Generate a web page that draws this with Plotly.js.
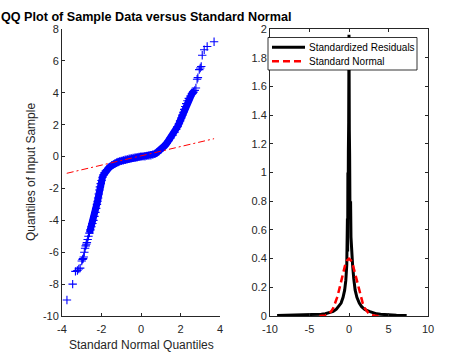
<!DOCTYPE html>
<html>
<head>
<meta charset="utf-8">
<script src="https://cdn.plot.ly/plotly-3.0.1.min.js"></script>
<style>html,body{margin:0;padding:0;background:#fff;}#plot{width:474px;height:355px;}</style>
</head>
<body>
<div id="plot"></div>
<script>
// ---- Left panel: QQ plot (theoretical quantile, sample quantile) ----
const qqX = [-3.75,-3.46,-3.32,-3.22,-3.15,-3.08,-3.00,-2.96,-2.93,-2.90,-2.87,-2.83,-2.80,-2.77,-2.74,
  -2.70,-2.66,-2.61,-2.56,-2.51,-2.46,-2.41,-2.36,-2.31,-2.27,-2.23,-2.20,-2.17,-2.14,-2.11,
  -2.08,-2.04,-2.00,-1.95,-1.90,-1.84,-1.78,-1.72,-1.64,-1.56,-1.48,-1.40,-1.32,-1.24,-1.16,-1.08,
  -1.00,-0.90,-0.80,-0.70,-0.60,-0.50,-0.40,-0.30,-0.20,-0.10,0.00,0.10,0.20,0.30,0.40,0.50,
  0.60,0.70,0.80,0.90,1.00,1.10,1.20,1.30,1.40,1.50,1.60,1.70,1.78,1.85,1.92,1.98,2.04,2.09,
  2.14,2.19,2.24,2.29,2.35,2.42,2.50,2.58,2.66,2.72,2.78,2.84,2.88,2.95,3.00,3.05,3.10,3.20,3.35,3.70];
const qqY = [-9.00,-8.00,-7.20,-7.15,-7.05,-7.00,-6.55,-6.45,-6.40,-6.30,-6.00,-5.75,-5.60,-5.50,-5.40,
  -5.20,-5.00,-4.80,-4.60,-4.40,-4.20,-4.00,-3.75,-3.50,-3.25,-3.00,-2.80,-2.60,-2.35,-2.10,
  -1.90,-1.70,-1.50,-1.30,-1.15,-1.00,-0.90,-0.82,-0.72,-0.63,-0.55,-0.49,-0.43,-0.38,-0.34,-0.30,
  -0.27,-0.23,-0.20,-0.16,-0.13,-0.10,-0.08,-0.06,-0.04,-0.02,0.00,0.01,0.02,0.04,0.06,0.08,
  0.12,0.17,0.24,0.33,0.43,0.55,0.68,0.83,0.99,1.16,1.34,1.52,1.70,1.88,2.06,2.24,2.42,2.60,
  2.78,2.96,3.14,3.32,3.50,3.65,3.80,3.95,4.05,4.15,4.30,4.85,4.95,5.45,5.55,5.65,6.35,6.70,6.90,7.20];
// reference line endpoints
const refX = [-3.76, 3.70];
const refY = [-1.05, 1.12];

// ---- Right panel: densities ----
const resX = [-9.1,-8.5,-8,-7.5,-7,-6.5,-6,-5.5,-5,-4.5,-4,-3.5,-3,-2.5,-2,-1.6,-1.35,-1.0,-0.75,-0.55,-0.4,-0.28,
  -0.2,-0.17,-0.14,-0.11,-0.08,-0.04,0.0,0.04,0.08,0.12,0.16,0.2,0.25,0.32,0.45,0.6,0.78,1.0,1.3,1.6,2.0,2.65,3.0,3.5,4,4.5,5,5.5,6,6.5,7,7.3];
const resY = [0.003,0.004,0.003,0.005,0.004,0.006,0.005,0.007,0.008,0.009,0.011,0.013,0.016,0.022,0.032,0.048,0.065,0.09,0.13,0.18,0.25,0.36,
  0.68,0.45,1.0,0.7,1.15,1.35,1.96,1.3,1.12,0.75,1.12,0.8,0.55,0.46,0.36,0.26,0.18,0.13,0.09,0.065,0.045,0.03,0.022,0.015,0.012,0.009,0.008,0.006,0.005,0.004,0.004,0.003];
const normX = [-3.75,-3.5,-3.25,-3,-2.75,-2.5,-2.25,-2,-1.75,-1.5,-1.25,-1,-0.75,-0.5,-0.25,0,
  0.25,0.5,0.75,1,1.25,1.5,1.75,2,2.25,2.5,2.75,3,3.25,3.5,3.75];
const normY = [0.0004,0.0009,0.002,0.0044,0.0091,0.0175,0.0317,0.054,0.0863,0.1295,0.1826,0.242,0.3011,0.3521,0.3867,0.3989,
  0.3867,0.3521,0.3011,0.242,0.1826,0.1295,0.0863,0.054,0.0317,0.0175,0.0091,0.0044,0.002,0.0009,0.0004];

// tick values and labels (hyphen minus, as in the reference)
const xTicksL = [-4,-2,0,2,4];
const xTickTextL = ['-4','-2','0','2','4'];
const yTicksL = [-10,-8,-6,-4,-2,0,2,4,6,8];
const yTickTextL = ['-10','-8','-6','-4','-2','0','2','4','6','8'];
const xTicksR = [-10,-5,0,5,10];
const xTickTextR = ['-10','-5','0','5','10'];
const yTicksR = [0,0.2,0.4,0.6,0.8,1,1.2,1.4,1.6,1.8,2];
const yTickTextR = ['0','0.2','0.4','0.6','0.8','1','1.2','1.4','1.6','1.8','2'];

const titleText = 'QQ Plot of Sample Data versus Standard Normal';
const xTitleL = 'Standard Normal Quantiles';
const yTitleL = 'Quantiles of Input Sample';
const legendNames = ['Standardized Residuals', 'Standard Normal'];

const FONT = 'Liberation Sans, Arial, sans-serif';
const AX = '#262626';
const W = 474, H = 355;
const px = v => v / W;
const py = v => 1 - v / H;
const bandStart = 17, bandEnd = 90;

const traces = [
  {x: qqX.slice(bandStart, bandEnd), y: qqY.slice(bandStart, bandEnd), xaxis:'x', yaxis:'y', mode:'lines',
   line:{color:'#0000ff', width:7}, showlegend:false, hoverinfo:'skip'},
  {x: qqX, y: qqY, xaxis:'x', yaxis:'y', mode:'markers',
   marker:{symbol:'cross-thin', size:6, color:'#0000ff', line:{color:'#0000ff', width:1.1}}, showlegend:false},
  {x: refX, y: refY, xaxis:'x', yaxis:'y', mode:'lines',
   line:{color:'#ff0000', width:1, dash:'7px,3px,2px,3px'}, showlegend:false},
  {x: resX, y: resY, xaxis:'x2', yaxis:'y2', mode:'lines', name: legendNames[0],
   line:{color:'#000000', width:3}, showlegend:false},
  {x: normX, y: normY, xaxis:'x2', yaxis:'y2', mode:'lines', name: legendNames[1],
   line:{color:'#ff0000', width:2.5, dash:'7px,4px'}, showlegend:false}
];

const baseAx = {
  showgrid:false, zeroline:false, showline:true, linecolor:AX, linewidth:1,
  ticks:'inside', ticklen:3, tickcolor:AX, tickwidth:1, tickmode:'array',
  tickfont:{family:FONT, size:11, color:AX}, fixedrange:true
};

const legendTop = 37.5, legendBot = 70, legendL = 268, legendR = 417;
const row1 = 47.3, row2 = 61.3;

const layout = {
  width:W, height:H, margin:{l:0, r:0, t:0, b:0},
  paper_bgcolor:'#ffffff', plot_bgcolor:'#ffffff',
  font:{family:FONT, color:AX},
  showlegend:false,
  xaxis: Object.assign({}, baseAx, {domain:[px(62), px(220)], range:[-4,4], tickvals:xTicksL, ticktext:xTickTextL, anchor:'y', ticklabelstandoff:3}),
  yaxis: Object.assign({}, baseAx, {domain:[py(316), py(29)], range:[-10,8], tickvals:yTicksL, ticktext:yTickTextL, anchor:'x'}),
  xaxis2: Object.assign({}, baseAx, {domain:[px(270), px(428)], range:[-10,10], tickvals:xTicksR, ticktext:xTickTextR, anchor:'y2', mirror:'ticks', ticklabelstandoff:3}),
  yaxis2: Object.assign({}, baseAx, {domain:[py(316), py(29)], range:[0,2], tickvals:yTicksR, ticktext:yTickTextR, anchor:'x2', mirror:'ticks'}),
  shapes:[
    {type:'rect', xref:'paper', yref:'paper', x0:px(legendL), x1:px(legendR), y0:py(legendBot), y1:py(legendTop),
     fillcolor:'#ffffff', line:{color:'#000000', width:0.8}, layer:'above'},
    {type:'line', xref:'paper', yref:'paper', x0:px(272), x1:px(305), y0:py(row1), y1:py(row1),
     line:{color:'#000000', width:3}, layer:'above'},
    {type:'line', xref:'paper', yref:'paper', x0:px(272), x1:px(305), y0:py(row2), y1:py(row2),
     line:{color:'#ff0000', width:2.5, dash:'7px,4px'}, layer:'above'}
  ],
  annotations:[
    {text:'<b>'+titleText+'</b>', xref:'paper', yref:'paper', x:px(145.5), y:py(17),
     xanchor:'center', yanchor:'middle', showarrow:false, font:{family:FONT, size:12.6, color:'#000000'}},
    {text:xTitleL, xref:'paper', yref:'paper', x:px(141), y:py(345), xanchor:'center', yanchor:'middle',
     showarrow:false, font:{family:FONT, size:12, color:AX}},
    {text:yTitleL, xref:'paper', yref:'paper', x:px(31), y:py(172), xanchor:'center', yanchor:'middle',
     textangle:-90, showarrow:false, font:{family:FONT, size:12, color:AX}},
    {text:legendNames[0], xref:'paper', yref:'paper', x:px(307), y:py(row1), xanchor:'left', yanchor:'middle',
     showarrow:false, font:{family:FONT, size:10, color:'#000000'}},
    {text:legendNames[1], xref:'paper', yref:'paper', x:px(307), y:py(row2), xanchor:'left', yanchor:'middle',
     showarrow:false, font:{family:FONT, size:10, color:'#000000'}}
  ]
};

Plotly.newPlot('plot', traces, layout, {staticPlot:true, displayModeBar:false});
</script>
</body>
</html>
